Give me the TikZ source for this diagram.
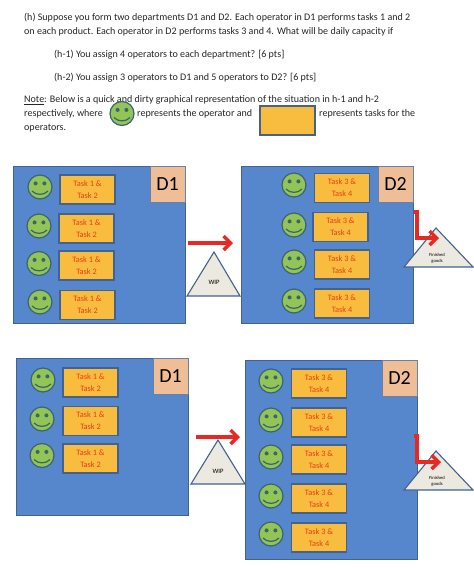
\documentclass[tikz,border=0pt]{standalone}
\usepackage{fontspec}
\setmainfont{Carlito}
\usetikzlibrary{arrows.meta}
\definecolor{panelblue}{RGB}{86,135,204}
\definecolor{edgeblue}{RGB}{68,98,142}
\definecolor{taskorange}{RGB}{248,188,62}
\definecolor{tagpeach}{RGB}{240,190,150}
\definecolor{facegreen}{RGB}{146,196,86}
\definecolor{faceedge}{RGB}{58,100,115}
\definecolor{stockgray}{RGB}{236,233,224}
\definecolor{flowred}{RGB}{229,42,37}
\definecolor{taskred}{RGB}{232,62,28}
\tikzset{
  para/.style={anchor=base west, inner sep=0pt, font=\fontsize{10.05}{12}\selectfont, text=black!85},
  panel/.style={draw=edgeblue, fill=panelblue, line width=1pt, minimum width=172pt, inner sep=0pt},
  tagbox/.style={draw=edgeblue!80, fill=tagpeach, line width=1pt, minimum width=35pt, minimum height=36pt,
    inner sep=0pt, font=\fontsize{20}{22}\selectfont},
  taskbox/.style={draw=edgeblue, fill=taskorange, line width=1.1pt, minimum width=55pt, minimum height=29pt,
    inner sep=0pt, align=center, text=taskred, font=\fontsize{8.3}{12}\selectfont},
  stock/.style={draw=edgeblue, fill=stockgray, line width=1.1pt, line join=miter},
  flow/.style={-{Straight Barb[length=7pt,width=14pt]}, draw=flowred, line width=3.4pt},
  pics/operator/.style={code={
    \draw[fill=facegreen, draw=faceedge, line width=1.2pt] (0,0) circle (12pt);
    \fill[faceedge] (-4.4,-3.6) circle (2pt) (4.4,-3.6) circle (2pt);
    \draw[faceedge, line width=1.2pt] (-8,4) .. controls (-4,8.5) and (4,8.5) .. (8,4);
  }}
}
\begin{document}
\begin{tikzpicture}[x=1pt,y=-1pt]
  \useasboundingbox[fill=white] (0,0) rectangle (474,568);

  % Question text
  \node[para] (line1) at (24,20.5) {(h) Suppose you form two departments D1 and D2. Each operator in D1 performs tasks 1 and 2};
  \node[para] (line2) at (24,34.5) {on each product. Each operator in D2 performs tasks 3 and 4. What will be daily capacity if};
  \node[para] (line3) at (54,57.5) {(h-1) You assign 4 operators to each department? [6 pts]};
  \node[para] (line4) at (54,80) {(h-2) You assign 3 operators to D1 and 5 operators to D2? [6 pts]};
  \node[para] (line5) at (24,102.5) {\underline{Note}: Below is a quick and dirty graphical representation of the situation in h-1 and h-2};
  \node[para] (line6) at (24,116.5) {respectively, where};
  \node[para] (line7) at (137,116.5) {represents the operator and};
  \node[para] (line8) at (319,116.5) {represents tasks for the};
  \node[para] (line9) at (24,130.5) {operators.};

  % Legend
  \pic at (122,113.5) {operator};
  \node[taskbox, minimum height=29pt] (legendtask) at (287.5,120.5) {};

  % Departments of h-1
  \node[panel, minimum height=157pt] (d1a) at (99,244.5) {};
  \node[tagbox, anchor=north east] (d1atag) at (d1a.north east) {D1};
  \foreach \n/\x/\y/\bx/\by in {1/40/187/87.5/189.5, 2/39/226/86.5/228.5, 3/39/263.5/86.5/265.5, 4/40/302/87.5/305} {
    \pic at (\x,\y) {operator};
    \node[taskbox] (taska\n) at (\bx,\by) {Task 1 \&\\Task 2};
  }

  \node[panel, minimum height=157pt] (d2a) at (327,245) {};
  \node[tagbox, anchor=north east] (d2atag) at (d2a.north east) {D2};
  \foreach \n/\y/\bx/\by in {1/185/342/188, 2/225/340.5/227, 3/262/342/264.5, 4/301/342/303.5} {
    \pic at (294,\y) {operator};
    \node[taskbox] (taskb\n) at (\bx,\by) {Task 3 \&\\Task 4};
  }

  % Departments of h-2
  \node[panel, minimum height=157pt] (d1b) at (102,437) {};
  \node[tagbox, anchor=north east] (d1btag) at (d1b.north east) {D1};
  \foreach \n/\x/\y/\by in {1/43/380/382.5, 2/42/419/421, 3/42/455.5/458.5} {
    \pic at (\x,\y) {operator};
    \node[taskbox] (taskc\n) at (90.5,\by) {Task 1 \&\\Task 2};
  }

  \node[panel, minimum height=199pt] (d2b) at (331,459.5) {};
  \node[tagbox, anchor=north east] (d2btag) at (d2b.north east) {D2};
  \foreach \n/\y/\by in {1/381/383.5, 2/420/422.5, 3/457/459.5, 4/496/498.5, 5/534/537.5} {
    \pic at (271,\y) {operator};
    \node[taskbox] (taskd\n) at (319,\by) {Task 3 \&\\Task 4};
  }

  % Stock triangles
  \draw[stock] (214,252) -- (240,296) -- (187,296) -- cycle;
  \node[font=\fontsize{6.6}{8}\selectfont] (wipa) at (214,282) {WIP};
  \draw[stock] (218,440) -- (245,484) -- (191,484) -- cycle;
  \node[font=\fontsize{6.6}{8}\selectfont] (wipb) at (218,471) {WIP};
  \draw[stock] (436,228) -- (473,267) -- (404,267) -- cycle;
  \node[align=center, inner sep=0pt, font=\fontsize{4.6}{6}\selectfont] (gooda) at (437,258) {Finished\\goods};
  \draw[stock] (436,451) -- (473,490) -- (404,490) -- cycle;
  \node[align=center, inner sep=0pt, font=\fontsize{4.6}{6}\selectfont] (goodb) at (437,481) {Finished\\goods};

  % Flows
  \coordinate (flowa) at (233,243);
  \coordinate (flowb) at (240,437);
  \draw[flow] (d1a.east |- flowa) ++(2,0) -- (flowa);
  \draw[flow] (d1b.east |- flowb) ++(7,0) -- (flowb);
  \coordinate (elbowa) at (417,212);
  \coordinate (enda) at (439,238);
  \coordinate (elbowb) at (417,436);
  \coordinate (endb) at (441,462);
  \draw[flow] (d2a.east |- elbowa) -- (elbowa) -- (elbowa |- enda) -- (enda);
  \draw[flow] (d2b.east |- elbowb) ++(-4,0) -- (elbowb) -- (elbowb |- endb) -- (endb);
\end{tikzpicture}
\end{document}
